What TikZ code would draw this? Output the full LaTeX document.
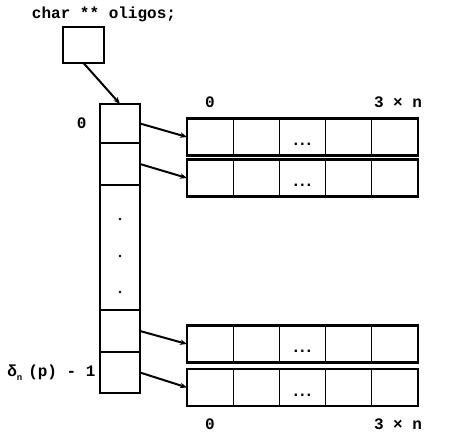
\documentclass[tikz,border=0pt]{standalone}
\usepackage{fontspec}
\setmonofont{Liberation Mono}
\usetikzlibrary{arrows.meta, positioning}

\newcommand{\gap}{\hspace{-3.1pt}}

\begin{document}
\begin{tikzpicture}[x=1pt, y=-1pt, node distance=0pt,
  font=\ttfamily\bfseries\fontsize{16}{18}\selectfont,
  cell/.style={rectangle, draw, line width=1.1pt, minimum width=40pt, outer sep=0pt, inner sep=0pt},
  slot/.style={rectangle, draw, line width=1.1pt, minimum width=46.2pt, minimum height=37pt, outer sep=0pt, inner sep=0pt},
  frame/.style={draw, line width=2.4pt},
  arrow/.style={-{Stealth[length=7pt, width=5.5pt]}, line width=2pt}]
  \useasboundingbox (0,0) rectangle (474,439);
  % pointer
  \node (decl) at (104,14) {char ** oligos;};
  \node[cell, minimum width=41pt, minimum height=36pt, line width=2.2pt] (ptr) at (83.5,45) {};
  % column of pointers
  \node[cell, minimum height=39pt] (c1) at (120,123.5) {};
  \node[cell, minimum height=42pt, below=of c1] (c2) {};
  \node[cell, minimum height=125pt, below=of c2] (c3) {};
  \node[cell, minimum height=42pt, below=of c3] (c4) {};
  \node[cell, minimum height=41pt, below=of c4] (c5) {};
  \draw[frame] (c1.north west) rectangle (c5.south east);
  \foreach \d in {28.5,-8.5,-44.5}
    \fill ([yshift=\d pt]c3.center) circle (1.3pt);
  \node[left=10pt of c1] (first) {0};
  \node[left=1pt of c5] (last) {δ\raisebox{-3.5pt}{\fontsize{9}{9}\selectfont n}\hspace{6pt}(p) - 1};
  % rows
  \foreach \r/\y in {1/137, 2/178, 3/344, 4/387.5} {
    \node[slot] (r\r-1) at (210.1,\y) {};
    \foreach \k [count=\j] in {2,...,5}
      \node[slot, right=of r\r-\j] (r\r-\k) {};
    \draw[frame] (r\r-1.north west) rectangle (r\r-5.south east);
    \node at ([yshift=-7.5pt]r\r-3.center) {.\gap.\gap.};
  }
  \node (top0) at (210,102) {0};
  \node (topn) at (398,102) {3 × n};
  \node (bot0) at (210,424) {0};
  \node (botn) at (398,424) {3 × n};
  % arrows
  \draw[arrow] (ptr.south) -- (c1.north);
  \draw[arrow] (c1.east) -- (r1-1.west);
  \draw[arrow] (c2.east) -- (r2-1.west);
  \draw[arrow] (c4.east) -- (r3-1.west);
  \draw[arrow] (c5.east) -- (r4-1.west);
\end{tikzpicture}
\end{document}
